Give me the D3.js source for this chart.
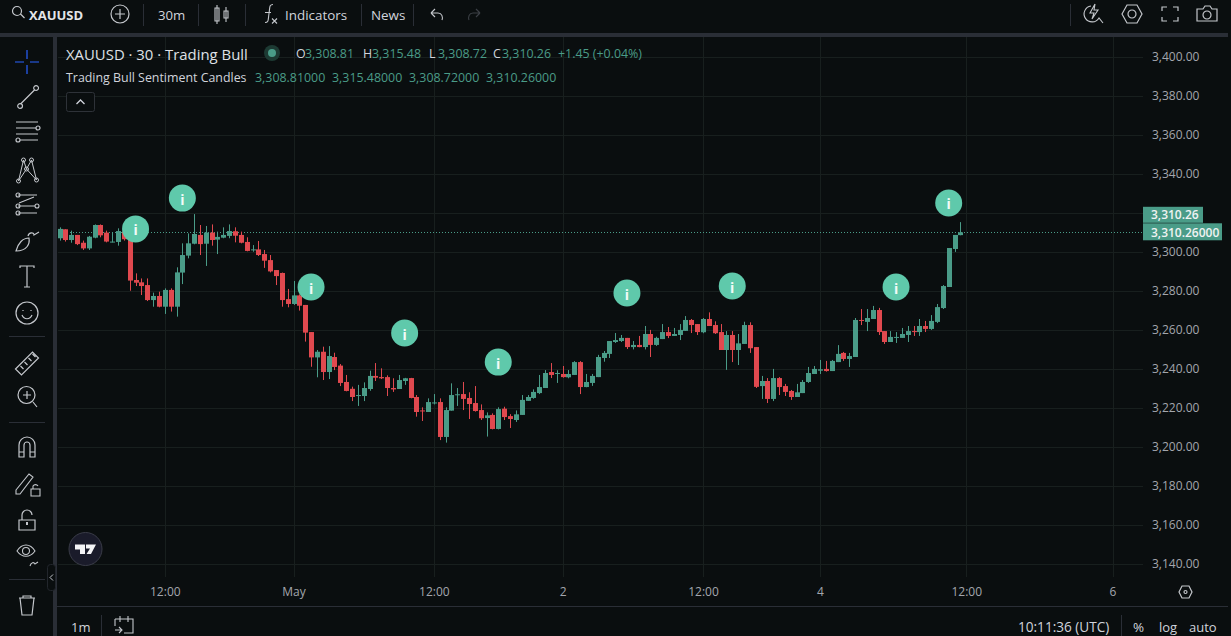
<!DOCTYPE html>
<html><head><meta charset="utf-8">
<script src="https://cdn.jsdelivr.net/npm/d3@7/dist/d3.min.js"></script>
<style>html,body{margin:0;padding:0;background:#0a0e0f;overflow:hidden}svg{display:block}text{font-family:"Open Sans","Liberation Sans",sans-serif}</style>
</head><body><svg id="c" width="1231" height="636"></svg>
<script>
const open=[3307.2,3311.8,3306.3,3308.9,3304.9,3302,3307.5,3314,3310.1,3305.3,
3305.3,3310.6,3306.7,3285.8,3284.6,3283.2,3275.5,3277.6,3272.1,3280.7,
3272.1,3289.6,3298.3,3304.4,3308.9,3304.4,3310.1,3306.5,3307.5,3308.4,
3310.8,3308.9,3305.3,3301.3,3301.5,3299.1,3296,3290.9,3289.4,3276,
3273.5,3277.9,3273,3259.1,3246.1,3249,3238.6,3246.3,3241.9,3233.5,
3230,3226.6,3226.3,3229.9,3236.6,3236,3236,3230.4,3229.9,3234,
3235.5,3225.8,3218.9,3218.1,3222.7,3223.2,3205.3,3218.8,3226.8,3227.3,
3225.3,3222.7,3219.1,3215,3216.6,3209.4,3219.8,3216,3214,3216.6,
3223.8,3225.3,3227.8,3230.4,3238.6,3237.9,3237.6,3235.9,3237.1,3243.7,
3230.9,3233,3236,3245.8,3247.9,3254,3254.5,3256.1,3251.4,3252.5,
3251.4,3258.1,3252.5,3255.5,3259.1,3257.1,3257.6,3259.7,3265.3,3263.2,
3259,3265.8,3262.7,3259.1,3249.9,3257.6,3249.9,3253,3262.7,3251.4,
3231.4,3234,3224.8,3235.5,3231.4,3228.9,3225.8,3227.8,3233.5,3237.6,
3239.3,3240.2,3239.1,3243.7,3248.4,3245.3,3246.3,3265.3,3264.3,3265.8,
3270.4,3259.6,3254,3256.2,3256.1,3257.6,3259.6,3259.1,3262.2,3260.7,
3264.3,3271.4,3282.2,3301.7,3308.81];
const close=[3312,3306.3,3308.9,3304.2,3302,3308,3314,3308.7,3305.5,3305.5,
3310.9,3306.7,3285.5,3284.4,3282.7,3275.5,3277.6,3272.1,3280.7,3272.1,
3289.7,3298.6,3304.6,3309.4,3304.2,3310.1,3306.3,3307.9,3308.9,3310.9,
3308.5,3304.9,3300.7,3301.5,3298.6,3295.7,3290.2,3287.8,3275.5,3273.5,
3277.9,3272.6,3258.8,3246.1,3249,3238.6,3246.8,3241.2,3233,3228.9,
3225.8,3226.8,3230.4,3236.6,3235.7,3235.4,3230.4,3229.7,3234.5,3235.4,
3225.3,3218.1,3218.4,3223.2,3223,3205.3,3219.1,3226.8,3227.2,3224.8,
3222.2,3218.6,3214.9,3216.4,3209.4,3219.6,3215.5,3214.5,3216.9,3224.3,
3225.8,3228.4,3230.9,3238.1,3237.1,3238.1,3236,3237.6,3243.7,3230.9,
3233.5,3236.6,3246.3,3248.4,3254.5,3255,3256.1,3251.4,3252.5,3251.4,
3258.1,3252.5,3256.1,3259.1,3257.1,3258.1,3260.2,3265.3,3262.7,3259.1,
3265.8,3262.2,3258.5,3249.9,3257.6,3249.9,3253.3,3262.7,3250.8,3231,
3234,3224.8,3235.5,3230.9,3228.4,3225.8,3228.2,3233.5,3238.1,3240.2,
3240,3239.1,3244.3,3247.9,3245.3,3246.8,3265.3,3265,3266.3,3270.4,
3259.1,3254,3256.6,3256.6,3258.1,3259.6,3259.3,3262.2,3260.7,3264.8,
3271.9,3282.7,3302.2,3308.9,3310.26];
const high=[3312.8,3311.8,3311.1,3308.9,3306,3308.4,3314.3,3314.3,3311.1,3310.1,
3312.3,3311.5,3308,3289.2,3286.6,3286.6,3279.3,3279.8,3281.5,3281.5,
3292.3,3304.6,3309.7,3319.6,3314,3313.5,3314.3,3310.6,3312.8,3314.3,
3312.8,3310.6,3307.7,3303.7,3305.8,3301.2,3298.6,3290.9,3289.6,3281.2,
3285.3,3278.4,3273,3259.1,3249.9,3251.6,3251.9,3248.5,3242.7,3237.1,
3231.1,3232,3233.3,3239.3,3243.2,3240.5,3236.9,3235.4,3237.1,3235.6,
3235.6,3226.8,3220.5,3225.1,3227.3,3225.1,3220.5,3232.8,3230.4,3233.5,
3228.2,3231.4,3222,3217.9,3217.4,3220.5,3220.8,3217,3218.9,3226.8,
3226.8,3229.7,3237.1,3239.6,3243.2,3239.5,3241.7,3239.6,3244.2,3244.2,
3237.6,3237.6,3247.4,3249.4,3254.5,3258.6,3257.6,3256.1,3254.5,3257.1,
3262.2,3260.2,3256.7,3263.2,3261.7,3261.2,3263.2,3267.3,3265.8,3263.2,
3266.3,3269.2,3264.6,3263.2,3259.6,3259.6,3258.1,3264.4,3264.1,3251.4,
3236.6,3235.5,3240.2,3236,3232.5,3229.4,3232.5,3234.5,3241.2,3241.7,
3244.8,3244.3,3244.8,3252.4,3248.9,3248.4,3266.3,3270.9,3270.9,3272.5,
3271.5,3259.6,3259.6,3259.1,3261.2,3262.2,3262.2,3265.8,3264.8,3267.8,
3273.5,3283.2,3302.2,3308.9,3315.48];
const low=[3306,3305.5,3304.9,3303.7,3301.2,3301.2,3307.2,3307.7,3305.1,3305.1,
3303.4,3306,3280.3,3282.7,3278.1,3275,3272.1,3271.8,3268.4,3269.6,
3267,3283.7,3296.9,3304.1,3298.6,3293,3303.4,3299.1,3307.2,3307.2,
3305.1,3304.6,3300.5,3300.3,3298.1,3292,3289.7,3283.2,3272.1,3271.8,
3273,3270.1,3254.2,3241.3,3235.9,3234.5,3235,3239.6,3231.4,3228.7,
3223.7,3221.2,3223.7,3229,3234,3235,3226.3,3228.4,3229.9,3232,
3225.1,3215.7,3213.5,3218.1,3222,3203.7,3202.4,3218.8,3221.2,3219.1,
3214.5,3218.3,3214,3205.5,3209.2,3209.2,3214,3209.9,3213,3216.6,
3223.8,3224.9,3227.3,3230.4,3235.5,3233,3235.7,3235.4,3237.1,3227.3,
3230.8,3231.5,3236,3243.9,3245.8,3253.5,3254,3250.4,3250.2,3251.3,
3250.2,3246.3,3252,3255.5,3256,3257.1,3255,3259.7,3258.6,3257.6,
3258.5,3262.2,3258.1,3249.9,3239.7,3243.7,3242.2,3253,3248.4,3230.4,
3224.8,3222.7,3223.7,3226.8,3226.3,3224.3,3225.8,3227.8,3233,3237.6,
3237.6,3238.8,3239.1,3243.7,3244.3,3241.2,3246.3,3262.7,3259.6,3265.8,
3257.6,3253,3254,3253.5,3256.1,3254,3257.1,3257.1,3259.1,3260.2,
3263.7,3270.9,3282.2,3300.2,3308.72];
const priceTicks=[3140,3160,3180,3200,3220,3240,3260,3280,3300,3320,3340,3360,3380,3400];
const timeTickIndex=[18,40,64,86,110,130,155,180];
const timeTickLabels=["12:00","May","12:00","2","12:00","4","12:00","6"];
const eventIndex=[13,21,43,59,75,97,115,143,152];
const eventPrice=[3312,3327.8,3282.2,3258.6,3243.7,3279.1,3282.7,3282.2,3325.3];
const lastPrice=3310.26;

const UP="#4a9c88",DOWN="#e0494f",BG="#0a0e0f",GRID="#181f1e",TXT="#d1d4dc",AX="#a3a6ad",ICON="#c4c7cc",SEP="#2a2e36",EV="#5fc9ab";
const x=d3.scaleLinear().domain([0,155]).range([59.5,966.25]);
const y=d3.scaleLinear().domain([3140,3400]).range([564.3,57.3]);
const svg=d3.select("#c");
svg.append("rect").attr("width",1231).attr("height",636).attr("fill",BG);
const T=(s,px,py,o={})=>svg.append("text").attr("x",px).attr("y",py).attr("fill",o.c||TXT).attr("font-size",o.s||13).attr("font-weight",o.w||400).attr("text-anchor",o.a||"start").attr("dominant-baseline","central").text(s);
const I=(d,tx,ty,sc=1,sw=1.2,col=ICON)=>svg.append("path").attr("d",d).attr("transform",`translate(${tx},${ty}) scale(${sc})`).attr("fill","none").attr("stroke",col).attr("stroke-width",sw);
const L=(a,b,c,d,col=SEP,w=1)=>svg.append("line").attr("x1",a).attr("y1",b).attr("x2",c).attr("y2",d).attr("stroke",col).attr("stroke-width",w);

// grid
const grid=svg.append("g");
grid.selectAll(".h").data(priceTicks).join("line").attr("x1",58).attr("x2",1143).attr("y1",d=>Math.round(y(d))+.5).attr("y2",d=>Math.round(y(d))+.5).attr("stroke",GRID);
grid.selectAll(".v").data(timeTickIndex).join("line").attr("x1",d=>Math.round(x(d))+.5).attr("x2",d=>Math.round(x(d))+.5).attr("y1",37).attr("y2",577).attr("stroke",GRID);

// axes
const yAxis=d3.axisRight(y).tickValues(priceTicks).tickFormat(d3.format(",.2f")).tickSize(0).tickPadding(0);
const ya=svg.append("g").attr("transform","translate(1152,0)").call(yAxis);
ya.select(".domain").remove();
ya.selectAll("text").attr("fill",AX).attr("font-size",12).attr("font-family",'"Open Sans"').attr("dy",".24em");
const tickScale=d3.scaleOrdinal().domain(timeTickIndex).range(timeTickLabels);
const xa=svg.append("g").attr("transform","translate(0,592)").call(d3.axisBottom(x).tickValues(timeTickIndex).tickFormat(d=>tickScale(d)).tickSize(0).tickPadding(0));
xa.select(".domain").remove();
xa.selectAll("text").attr("fill",AX).attr("font-size",12).attr("font-family",'"Open Sans"').attr("dy",".32em").attr("y",0);

// price line
svg.append("line").attr("x1",58).attr("x2",1143).attr("y1",Math.round(y(lastPrice))+.5).attr("y2",Math.round(y(lastPrice))+.5).attr("stroke",UP).attr("stroke-dasharray","1 2");

// candles
const data=d3.range(open.length);
const col=i=>close[i]>=open[i]?UP:DOWN;
const cg=svg.append("g");
cg.selectAll("line").data(data).join("line")
 .attr("x1",i=>Math.round(x(i))+.5).attr("x2",i=>Math.round(x(i))+.5)
 .attr("y1",i=>y(high[i])).attr("y2",i=>y(low[i])).attr("stroke",col);
cg.selectAll("rect").data(data).join("rect")
 .attr("x",i=>Math.round(x(i))-2).attr("width",5)
 .attr("y",i=>y(Math.max(open[i],close[i])))
 .attr("height",i=>Math.max(1,Math.abs(y(open[i])-y(close[i])))).attr("fill",col);

// events
const eg=svg.append("g").selectAll("g").data(eventIndex).join("g").attr("transform",(d,i)=>`translate(${x(d)},${y(eventPrice[i])})`);
eg.append("circle").attr("r",13.5).attr("fill",EV);
eg.append("text").attr("text-anchor","middle").attr("dominant-baseline","central").attr("y",1).attr("fill","#f2fbf8").attr("font-size",14).attr("font-weight",700).text("i");

// price labels
const py=y(lastPrice);
svg.append("rect").attr("x",1143).attr("y",py-25.5).attr("width",60).attr("height",16).attr("fill",UP);
svg.append("rect").attr("x",1143).attr("y",py-9).attr("width",79).attr("height",17).attr("fill",UP);
T(d3.format(",.2f")(lastPrice),1151,py-18,{s:12,c:"#f0f3f2",w:600});
T(d3.format(",.5f")(lastPrice),1151,py,{s:12,c:"#f0f3f2",w:600});

// panels
svg.append("rect").attr("width",1231).attr("height",33).attr("fill",BG);
svg.append("rect").attr("y",33).attr("width",1228).attr("height",4).attr("fill",SEP);
svg.append("rect").attr("y",37).attr("width",53).attr("height",599).attr("fill",BG);
svg.append("rect").attr("x",53).attr("y",37).attr("width",4).attr("height",599).attr("fill",SEP);
L(57,606.5,1228,606.5,SEP);

// legend
T("XAUUSD · 30 · Trading Bull",66,53.5,{s:14.9,c:"#dfe1e6"});
svg.append("circle").attr("cx",272).attr("cy",53).attr("r",8).attr("fill","#1d3a33");
svg.append("circle").attr("cx",272).attr("cy",53).attr("r",4).attr("fill",UP);
[["O","3,308.81",296],["H","3,315.48",363],["L","3,308.72",429],["C","3,310.26",493]].forEach(([a,b,px])=>{T(a,px,53.5,{s:12.4});T(b,px+9,53.5,{s:12.4,c:UP});});
T("+1.45 (+0.04%)",558,53.5,{s:12.4,c:UP});
T("Trading Bull Sentiment Candles",66,77,{s:12.4});
[["3,308.81000",255],["3,315.48000",332],["3,308.72000",409],["3,310.26000",486]].forEach(([b,px])=>T(b,px,77,{s:12.4,c:UP}));
svg.append("rect").attr("x",66.5).attr("y",92.5).attr("width",28).attr("height",19).attr("rx",2).attr("fill",BG).attr("stroke","#2e3238");
I("M-4 2 L0 -2 L4 2",80.5,102,1,1.3,TXT);

// top bar
I("M7.5 7.5 L11.5 11.5 M8.5 4.5 A4.5 4.5 0 1 1 -0.5 4.5 A4.5 4.5 0 1 1 8.5 4.5",13,6.5);
T("XAUUSD",29,14.5,{s:13,w:700,c:"#e3e5e8"});
I("M-9 0 A9 9 0 1 1 9 0 A9 9 0 1 1 -9 0 M-5 0 H5 M0 -5 V5",120,14);
T("30m",158,14.5,{s:13.2});
I("M-1 -6 H-5 V7 H-1 Z M-3 -9 V10 M4 -3 H8 V4 H4 Z M6 -7 V8",220,14,1,1.1);
I("M5 -9 C1 -9 2 -6 1 0 C0 6 1 9 -3 9 M-3 -1 H3 M4 5 L9 10 M9 5 L4 10",268,13.5,1,1.1);
T("Indicators",285,14.5,{s:13.4});
T("News",371,14.5,{s:13.4});
I("M-5 -2 L-1 -6 M-5 -2 L-1 2 M-5 -2 H2 C6 -2 7 2 6 5",436,15,1,1.1);
I("M5 -2 L1 -6 M5 -2 L1 2 M5 -2 H-2 C-6 -2 -7 2 -6 5",475,15,1,1.1,"#3c4046");
[143,198,245,361,413,1070].forEach(px=>L(px+.5,4,px+.5,26));
I("M2 -9 L-3 0 H1 L-1 6 M2 -9 L1 -3 H5 L-1 6 M-2 -7 A8 8 0 1 0 6 5 L10 10",1093,13,1,1.1);
const hex="M-10 0 L-5 -9 H5 L10 0 L5 9 H-5 Z M4 0 A4 4 0 1 1 -4 0 A4 4 0 1 1 4 0";
I(hex,1132,14);
I("M-8 -3 V-7 H-3 M3 -7 H8 V-3 M8 3 V7 H3 M-3 7 H-8 V3",1170,14);
I("M-10 -5 H-4 L-2 -8 H3 L5 -5 H10 V7 H-10 Z M4 1 A4 4 0 1 1 -4 1 A4 4 0 1 1 4 1",1207,14);

// left tools
I("M-12 0 H-3 M3 0 H12 M0 -12 V-3 M0 3 V12",27,62,1,1.2,"#2962ff");
I("M-7 7 L7 -7 M-5 9 A2.4 2.4 0 1 1 -9.8 9 A2.4 2.4 0 1 1 -5 9 M11 -9 A2.4 2.4 0 1 1 6.2 -9 A2.4 2.4 0 1 1 11 -9",27.5,97);
I("M-11 -11 H11 M-11 -5 H9 M-11 1 H11 M-7 7 H11 M13 -5 A2 2 0 1 1 9 -5 A2 2 0 1 1 13 -5 M-7 7 A2 2 0 1 1 -11 7 A2 2 0 1 1 -7 7",27,133);
I("M-9 12 L-4 -9 L-1 0 L4 -9 L9 11 M-9 12 L-1 0 L9 11 M-2 -9 A2 2 0 1 1 -6 -9 A2 2 0 1 1 -2 -9 M6 -9 A2 2 0 1 1 2 -9 A2 2 0 1 1 6 -9 M-7 12 A2 2 0 1 1 -11 12 A2 2 0 1 1 -7 12 M11 11 A2 2 0 1 1 7 11 A2 2 0 1 1 11 11 M1 0 A2 2 0 1 1 -3 0 A2 2 0 1 1 1 0",27.5,169,1,1);
I("M-9 -11 H10 M-9 7 H10 M-9 0 H8 M-8 -3 L7 -9 M-7 -11 A2 2 0 1 1 -11 -11 A2 2 0 1 1 -7 -11 M-7 0 A2 2 0 1 1 -11 0 A2 2 0 1 1 -7 0 M-7 7 A2 2 0 1 1 -11 7 A2 2 0 1 1 -7 7 M12 0 A2 2 0 1 1 8 0 A2 2 0 1 1 12 0",27,206,1,1.1);
I("M-11 10 C-9 2 -4 -3 2 -3 C3 3 0 10 -11 10 Z M1 -5 C2 -9 7 -9 7 -6 L12 -9",27,241);
I("M-7 -9 V-11 H7 V-9 M0 -11 V10 M-3 10 H3",27,277,1,1.2);
I("M11 0 A11 11 0 1 1 -11 0 A11 11 0 1 1 11 0 M-5 2 C-3 7 3 7 5 2 M-4 -3 V-2 M4 -3 V-2",27,313);
L(9,336.5,45,336.5);
I("M-11 6 L6 -11 L12 -5 L-5 12 Z M-6 3 L-3 6 M-2 -1 L1 2 M2 -5 L5 -2 M6 -9 L9 -6",26.5,363);
I("M8 -2 A8.5 8.5 0 1 1 -9 -2 A8.5 8.5 0 1 1 8 -2 M6 5 L10 10 M-4 -2 H4 M0 -6 V2",27,397);
L(9,422.5,45,422.5);
I("M-8 10 V-2 A8 8 0 0 1 8 -2 V10 H3 V-2 A3 3 0 0 0 -3 -2 V10 Z M-8 5 H-3 M3 5 H8",27,447);
I("M-11 7 L2 -9 L6 -6 L-7 11 L-11 11 Z M4 6 H13 V13 H4 Z M6 6 V3 A3 3 0 0 1 11 3",27,483,1,1.1);
I("M-8 -1 H8 V9 H-8 Z M-5 -1 V-6 A5 5 0 0 1 5 -6",27,521);
svg.append("rect").attr("x",26).attr("y",522).attr("width",2).attr("height",3).attr("fill",ICON);
I("M-9 -3 C-4 -11 4 -11 9 -3 C4 4 -4 4 -9 -3 Z M3.5 -3 A3.5 3.5 0 1 1 -3.5 -3 A3.5 3.5 0 1 1 3.5 -3 M4 12 C5 8 8 8 9 10 L12 8",26,554,1,1.1);
L(9,579.5,45,579.5);
I("M-8 -6 H8 M-4 -6 V-8 H4 V-6 M-7 -6 L-5 11 H5 L7 -6",27,604);
svg.append("rect").attr("x",47.5).attr("y",564.5).attr("width",8).attr("height",26).attr("rx",3).attr("fill",BG).attr("stroke","#22262c");
I("M2 -3 L-1 0 L2 3",51,577.5,1,1,ICON);

// logo
svg.append("circle").attr("cx",85.5).attr("cy",549).attr("r",16.5).attr("fill","#1a1b2a").attr("stroke","#3a3c48").attr("stroke-width",1);
svg.append("path").attr("d","M-10 -4.5 H0 V5 H-5 V0.5 H-10 Z M1 -4.5 H11 L6 5 H1.5 L5 -0.5 H1 Z").attr("transform","translate(85,549)").attr("fill","#f4f4f6");

// bottom bar
T("1m",71,626.5,{s:13});
L(101.5,615,101.5,636);
I("M-9 -6 H9 V8 H0 M-9 -6 V1 M-4 -9 V-3 M4 -9 V-3 M-9 5 H-2 M-5 2 L-2 5 L-5 8",124,625,1,1.1);
T("10:11:36 (UTC)",1018,626.5,{s:13.6});
L(1121.5,615,1121.5,636);
T("%",1133,626.5,{s:13.4});T("log",1159,626.5,{s:13});T("auto",1189,626.5,{s:13});
I("M-6.5 0 L-3.5 -6 H3.5 L6.5 0 L3.5 6 H-3.5 Z M1.5 0 A1.5 1.5 0 1 1 -1.5 0 A1.5 1.5 0 1 1 1.5 0",1185.5,592);
</script></body></html>
